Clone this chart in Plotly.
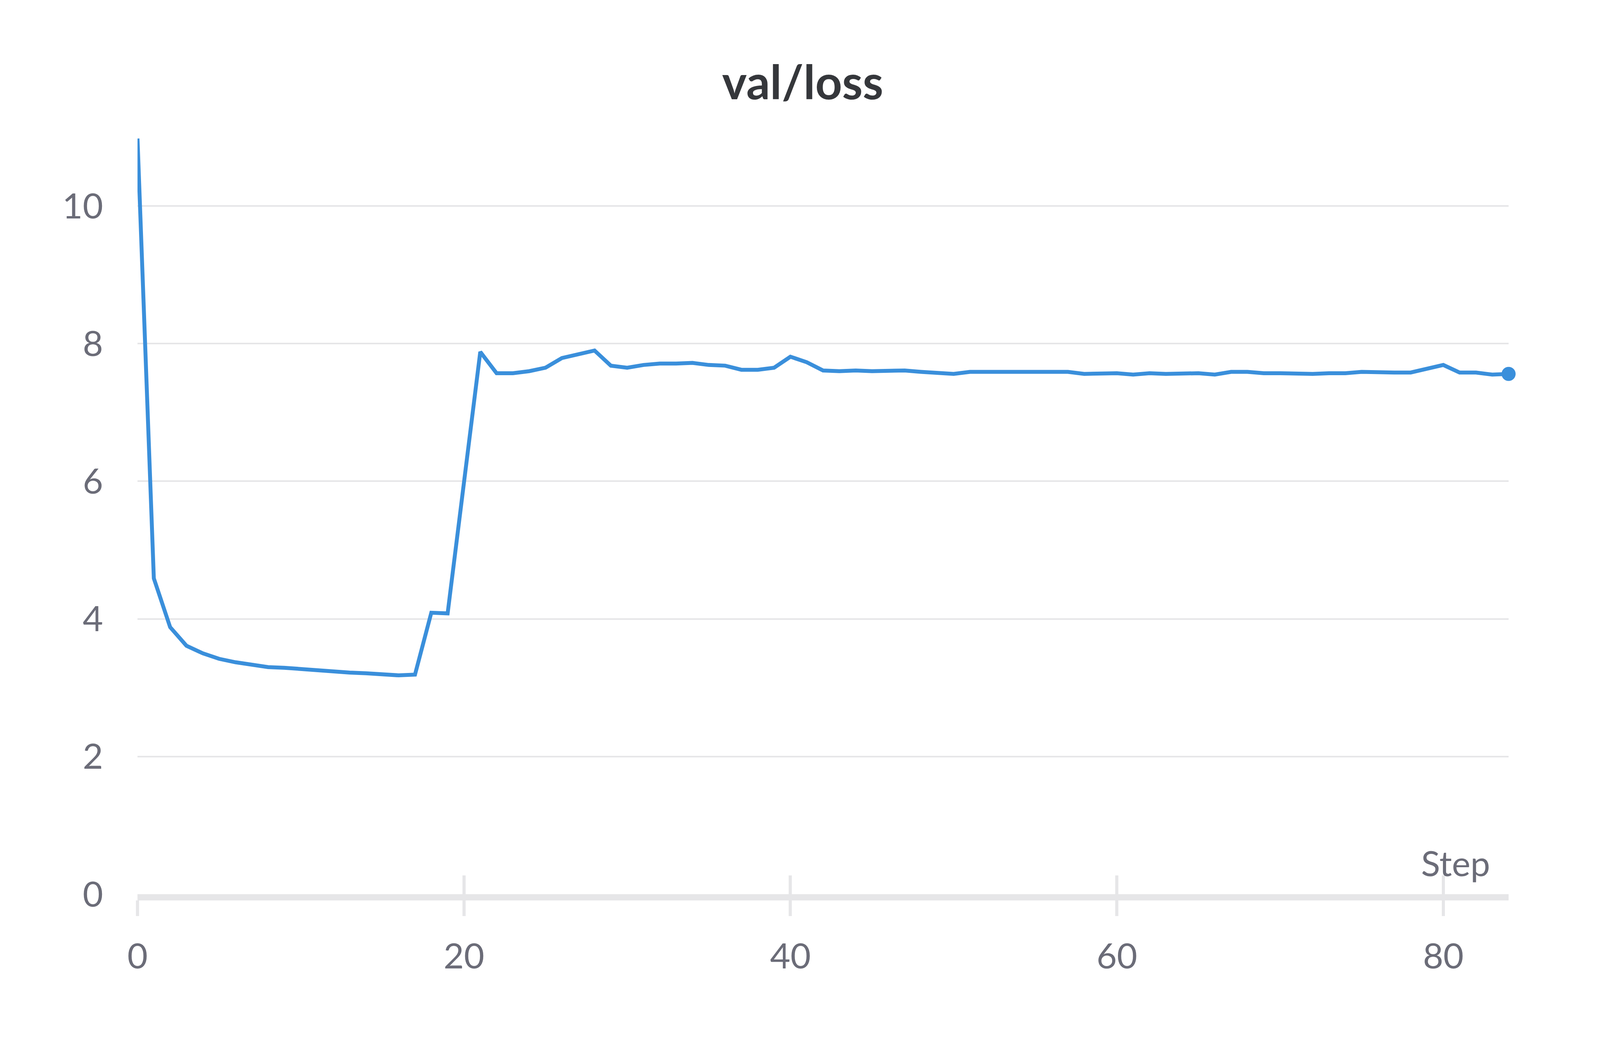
""" Line chart of the validation loss per step,
written to out.html
"""

import plotly.graph_objects as go


STEPS = list(range(85))

VAL_LOSS = [
    10.98, 4.59, 3.88, 3.61, 3.50, 3.42, 3.37, 3.34, 3.30, 3.29,
    3.27, 3.25, 3.23, 3.22, 3.21, 3.20, 3.18, 3.19, 4.09, 4.08,
    5.97, 7.88, 7.57, 7.57, 7.60, 7.65, 7.79, 7.84, 7.90, 7.68,
    7.65, 7.69, 7.71, 7.71, 7.72, 7.69, 7.68, 7.62, 7.62, 7.65,
    7.81, 7.73, 7.61, 7.60, 7.61, 7.60, 7.61, 7.61, 7.59, 7.58,
    7.56, 7.59, 7.59, 7.59, 7.60, 7.60, 7.60, 7.59, 7.56, 7.56,
    7.57, 7.55, 7.57, 7.56, 7.57, 7.57, 7.55, 7.59, 7.59, 7.57,
    7.57, 7.56, 7.56, 7.57, 7.57, 7.59, 7.58, 7.58, 7.58, 7.63,
    7.69, 7.58, 7.58, 7.55, 7.56,
]

X_TICKS = [0, 20, 40, 60, 80]
Y_TICKS = [0, 2, 4, 6, 8, 10]

BLUE = "#3a8fdb"
GREY_TEXT = "#6b6c78"
GREY_LINE = "#e6e6e8"
FONT = "Lato"

# the browser window is 4096 x 2656
WIDTH = 4096
HEIGHT = 2656

# only the last point gets a dot
marker_sizes = [0] * (len(STEPS) - 1) + [36]

fig = go.Figure()
fig.add_trace(go.Scatter(
    x=STEPS,
    y=VAL_LOSS,
    mode="lines+markers",
    line=dict(color=BLUE, width=10),
    marker=dict(color=BLUE, size=marker_sizes, opacity=1, line_width=0),
    cliponaxis=False,
    showlegend=False,
    hoverinfo="skip",
))
# invisible copy on the overlay axis so that axis gets drawn
fig.add_trace(go.Scatter(
    x=STEPS,
    y=VAL_LOSS,
    mode="none",
    xaxis="x2",
    showlegend=False,
    hoverinfo="skip",
))

fig.update_layout(
    width=WIDTH,
    height=HEIGHT,
    paper_bgcolor="white",
    plot_bgcolor="white",
    margin=dict(l=352, r=234, t=351, b=368),
    title=dict(
        text="<b>val/loss</b>",
        x=0.5017, xref="container", xanchor="center",
        y=1 - 212 / HEIGHT, yref="container", yanchor="middle",
        font=dict(family=FONT, size=120, color="#35373b"),
    ),
    xaxis=dict(
        range=[0, 84],
        tickvals=X_TICKS,
        showgrid=False,
        zeroline=False,
        showline=True,
        linecolor=GREY_LINE,
        linewidth=16,
        ticks="outside",
        ticklen=40,
        tickwidth=8,
        tickcolor=GREY_LINE,
        ticklabelstandoff=26,
        tickfont=dict(family=FONT, size=90, color=GREY_TEXT),
    ),
    # second x axis only to draw the upper half of the tick marks
    xaxis2=dict(
        range=[0, 84],
        tickvals=X_TICKS,
        overlaying="x",
        anchor="y",
        side="bottom",
        showgrid=False,
        zeroline=False,
        showline=False,
        ticks="inside",
        ticklen=48,
        tickwidth=8,
        tickcolor=GREY_LINE,
        showticklabels=False,
    ),
    yaxis=dict(
        range=[0, 11],
        tickvals=Y_TICKS,
        showgrid=True,
        gridcolor=GREY_LINE,
        gridwidth=4,
        zeroline=False,
        showline=False,
        ticks="",
        ticklabelstandoff=87,
        tickfont=dict(family=FONT, size=90, color=GREY_TEXT),
    ),
    annotations=[dict(
        text="Step",
        xref="paper", yref="paper",
        x=0.9872, y=0,
        xanchor="right", yanchor="bottom",
        yshift=25,
        showarrow=False,
        font=dict(family=FONT, size=90, color=GREY_TEXT),
    )],
)

# drop the page margin so the figure fills the window exactly
fig.write_html(
    "out.html",
    config={"displayModeBar": False},
    post_script="document.body.style.margin = '0';",
)
